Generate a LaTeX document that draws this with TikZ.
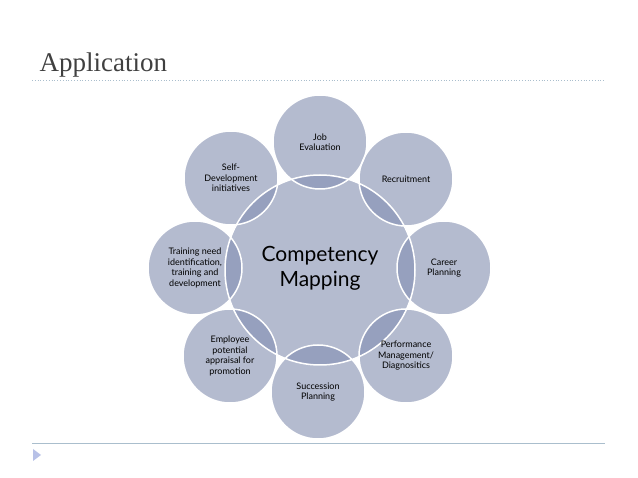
\documentclass[tikz,border=0pt]{standalone}
\usepackage{fontspec}
\setmainfont{Liberation Serif}
\newfontfamily\gill{Lato}
\begin{document}
\begin{tikzpicture}[x=1pt,y=-1pt,
  outer/.style={circle,minimum size=94pt,inner sep=0pt,align=center,font=\gill\fontsize{9}{10.5}\selectfont,text=black},
  ring/.style={draw=white,line width=1.5pt}]
\definecolor{cfill}{RGB}{180,187,207}
\definecolor{cdark}{RGB}{150,160,190}
\definecolor{lineblue}{RGB}{170,190,205}
\useasboundingbox (0,0) rectangle (638,478);
\fill[white] (0,0) rectangle (638,478);
\node[anchor=base west,font=\fontsize{27}{30}\selectfont,text=black!75] (title) at (36,72) {Application};
\draw[lineblue,dotted,line width=0.8pt] (32,80) coordinate (t1) -- (605,80) coordinate (t2);
\draw[lineblue,line width=0.8pt] (32,443) coordinate (b1) -- (605,443) coordinate (b2);
\fill[lineblue!80!blue!60] (33,449) -- (41,455) -- (33,461) -- cycle;
\def\R{95}
\fill[cfill] (320,270) circle (\R);
\foreach \n/\x/\y in {a/320/142,b/406/179,c/444/268,d/406/356,e/318/392,f/230/356,g/195/268,h/231/178}{
  \fill[cfill] (\x,\y) circle (47);
  \begin{scope}\clip (\x,\y) circle (47); \fill[cdark] (320,270) circle (\R); \end{scope}
}
\draw[ring] (320,270) circle (\R);
\foreach \n/\x/\y in {a/320/142,b/406/179,c/444/268,d/406/356,e/318/392,f/230/356,g/195/268,h/231/178}{
  \draw[ring] (\x,\y) circle (47);
}
\node[font=\gill\fontsize{21}{25}\selectfont,align=center] (cm) at (320,268) {Competency\\Mapping};
\node[outer] (a) at (320,142) {Job\\Evaluation};
\node[outer] (b) at (406,179) {Recruitment};
\node[outer] (c) at (444,268) {Career\\Planning};
\node[outer] (d) at (406,356) {Performance\\Management/\\Diagnositics};
\node[outer] (e) at (318,392) {Succession\\Planning};
\node[outer] (f) at (230,356) {Employee\\potential\\appraisal for\\promotion};
\node[outer] (g) at (195,268) {Training need\\identification,\\training and\\development};
\node[outer] (h) at (231,178) {Self-\\Development\\initiatives};
\end{tikzpicture}
\end{document}
